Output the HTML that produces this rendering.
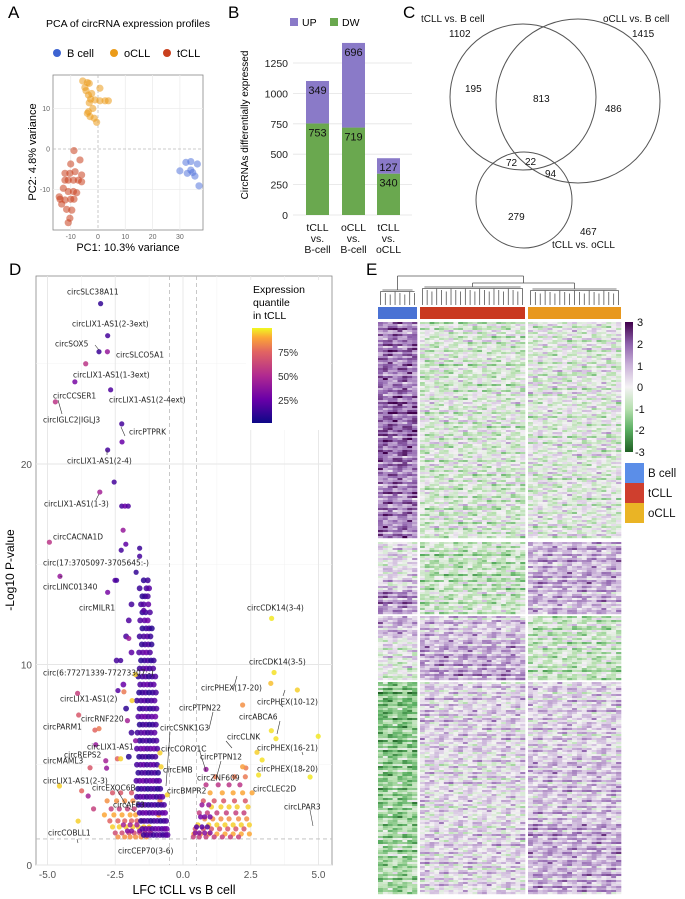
<!DOCTYPE html>
<html><head><meta charset="utf-8">
<style>
html,body{margin:0;padding:0;background:#fff;}
svg{display:block;font-family:"Liberation Sans",sans-serif;}
.vl{font-family:"DejaVu Sans","Liberation Sans",sans-serif;font-size:7.5px;fill:#222;}
.tick{font-size:8px;fill:#555;}
</style></head>
<body>
<svg id="fig" width="685" height="899" viewBox="0 0 685 899" xmlns="http://www.w3.org/2000/svg">
<text x="8" y="18" font-size="17">A</text>
<text x="228" y="18" font-size="17">B</text>
<text x="403" y="18" font-size="17">C</text>
<text x="9" y="275" font-size="17">D</text>
<text x="366" y="275" font-size="17">E</text>

<g id="pca">
<text x="128" y="27" font-size="10.5" text-anchor="middle">PCA of circRNA expression profiles</text>
<g>
<circle cx="57" cy="53" r="4" fill="#3d63d1"/>
<text x="67" y="57" font-size="11">B cell</text>
<circle cx="114" cy="53" r="4" fill="#eb9b19"/>
<text x="124" y="57" font-size="11">oCLL</text>
<circle cx="167" cy="53" r="4" fill="#c9401e"/>
<text x="177" y="57" font-size="11">tCLL</text>
</g>
<rect x="53" y="75" width="150" height="155" fill="#fff" stroke="#888" stroke-width="0.8"/>
<g id="pcaGrid"></g>
<g id="pcaPts"></g>
<text x="128" y="251" font-size="11" text-anchor="middle">PC1: 10.3% variance</text>
<text transform="translate(36,152) rotate(-90)" font-size="11" text-anchor="middle">PC2: 4.8% variance</text>
</g>

<g id="bars">
<rect x="290" y="18" width="8" height="8" fill="#8a7ac8"/>
<text x="302" y="26" font-size="10.5">UP</text>
<rect x="330" y="18" width="8" height="8" fill="#6aa84f"/>
<text x="342" y="26" font-size="10.5">DW</text>
<g id="barGrid"></g>
<g id="barMarks"></g>
<text transform="translate(248,125) rotate(-90)" font-size="10" text-anchor="middle">CircRNAs differentially expressed</text>
</g>

<g id="venn" fill="none" stroke="#555" stroke-width="1">
<circle cx="523" cy="97" r="73"/>
<circle cx="578" cy="101" r="82"/>
<circle cx="524" cy="200" r="48"/>
</g>
<g font-size="10" fill="#111">
<text x="421" y="22">tCLL vs. B cell</text>
<text x="449" y="37">1102</text>
<text x="603" y="22">oCLL vs. B cell</text>
<text x="632" y="37">1415</text>
<text x="465" y="92">195</text>
<text x="533" y="102">813</text>
<text x="605" y="112">486</text>
<text x="506" y="166">72</text>
<text x="525" y="165">22</text>
<text x="545" y="177">94</text>
<text x="508" y="220">279</text>
<text x="580" y="235">467</text>
<text x="552" y="248">tCLL vs. oCLL</text>
</g>

<g id="volcano">
<rect x="36" y="276" width="296" height="589" fill="#fff" stroke="#888" stroke-width="0.8"/>
<g id="volGrid"></g>
<g id="volPts"></g>
<g id="volLabels"></g>
<rect x="246" y="280" width="84" height="150" fill="#fff"/>
<text x="253" y="293" font-size="10.5">Expression</text>
<text x="253" y="306" font-size="10.5">quantile</text>
<text x="253" y="319" font-size="10.5">in tCLL</text>
<defs><linearGradient id="plasma" x1="0" y1="1" x2="0" y2="0">
<stop offset="0" stop-color="#0d0887"/><stop offset="0.25" stop-color="#6a00a8"/><stop offset="0.5" stop-color="#b12a90"/><stop offset="0.75" stop-color="#e16462"/><stop offset="0.9" stop-color="#fca636"/><stop offset="1" stop-color="#f0f921"/></linearGradient>
<linearGradient id="prgn" x1="0" y1="0" x2="0" y2="1">
<stop offset="0" stop-color="#40004b"/><stop offset="0.17" stop-color="#8f63ad"/><stop offset="0.33" stop-color="#c9b1d8"/><stop offset="0.5" stop-color="#f4f2f4"/><stop offset="0.67" stop-color="#b5dfae"/><stop offset="0.83" stop-color="#5aae61"/><stop offset="1" stop-color="#1f5f24"/></linearGradient></defs>
<rect x="252" y="328" width="20" height="95" fill="url(#plasma)"/>
<g font-size="10" fill="#333">
<text x="278" y="356">75%</text><text x="278" y="380">50%</text><text x="278" y="404">25%</text></g>
<text transform="translate(14,570) rotate(-90)" font-size="12" text-anchor="middle">-Log10 P-value</text>
<text x="184" y="894" font-size="12.5" text-anchor="middle">LFC tCLL vs B cell</text>
</g>

<g id="heat">
<g id="dendro" stroke="#555" stroke-width="0.8" fill="none"></g>
<rect x="378" y="307" width="39" height="12" fill="#4a72d4"/>
<rect x="420" y="307" width="105" height="12" fill="#c9391f"/>
<rect x="528" y="307" width="93" height="12" fill="#e8981e"/>
<g id="heatCells"></g>
<rect x="625" y="322" width="8" height="130" fill="url(#prgn)"/>
<g font-size="11" fill="#111">
<text x="637" y="326">3</text><text x="637" y="348">2</text><text x="637" y="370">1</text><text x="637" y="391">0</text><text x="635" y="413">-1</text><text x="635" y="434">-2</text><text x="635" y="456">-3</text></g>
<rect x="625" y="463" width="19" height="20" fill="#5b8ee8"/>
<rect x="625" y="483" width="19" height="20" fill="#cf3f2e"/>
<rect x="625" y="503" width="19" height="20" fill="#eab425"/>
<g font-size="11.5" fill="#111"><text x="648" y="477">B cell</text><text x="648" y="497">tCLL</text><text x="648" y="517">oCLL</text></g>
</g>
</svg>
<script>
const pcaOcllPC1=[-5.6,-3.9,-4.8,-3.2,-4.4,-3.5,-2.3,0.7,-2.7,-1.1,0.7,2.6,3.8,-3.2,-3.5,-1.9,-3.9,-2.9,-1.4,-0.5];
const pcaOcllPC2=[16.8,16.4,15.2,16.2,14.4,13.3,13.7,15.0,12.3,12.1,11.9,11.9,11.9,11.4,9.2,10.0,8.8,8.0,7.6,6.6];
const pcaTcllPC1=[-8.8,-10.0,-6.6,-12.1,-10.3,-8.4,-6.0,-12.1,-10.9,-9.0,-7.2,-6.0,-12.7,-10.9,-9.0,-7.8,-13.9,-12.1,-10.0,-8.8,-13.3,-11.5,-9.6,-10.3,-10.9,-14.2];
const pcaTcllPC2=[-0.4,-3.7,-2.7,-6.0,-6.0,-5.6,-6.4,-7.7,-7.7,-7.7,-7.7,-8.1,-9.7,-10.5,-10.5,-10.8,-12.4,-12.6,-12.4,-12.4,-13.6,-14.9,-15.1,-17.1,-18.2,-11.8];
const pcaBcellPC1=[30.0,32.2,34.0,36.4,32.7,34.7,35.5,37.0,34.0];
const pcaBcellPC2=[-5.4,-3.3,-3.1,-3.7,-6.0,-5.8,-6.7,-9.1,-5.2];
const pcaXTicks=[-10,0,10,20,30];
const pcaYTicks=[-10,0,10];
const barCategories=[["tCLL","vs.","B-cell"],["oCLL","vs.","B-cell"],["tCLL","vs.","oCLL"]];
const barDW=[753,719,340];
const barUP=[349,696,127];
const barTicks=[0,250,500,750,1000,1250];
const volXTicks=[-5.0,-2.5,0.0,2.5,5.0];
const volYTicks=[0,10,20];
const volHighlight=[[-3.04,28.0,.1],[-2.78,26.4,.15],[-3.10,25.6,.12],[-2.79,25.6,.4],[-3.59,25.0,.55],[-3.99,24.1,.3],[-2.67,23.7,.18],[-4.71,23.1,.55],[-2.26,22.0,.15],[-2.25,21.1,.25],[-2.78,20.7,.15],[-2.54,19.1,.15],[-3.07,18.6,.45],[-2.26,17.9,.15],[-2.14,17.9,.25],[-2.02,17.9,.18],[-2.21,16.7,.4],[-4.93,16.1,.55],[-2.11,16.0,.22],[-2.28,15.7,.15],[-1.60,15.8,.12],[-1.60,15.4,.15],[-1.73,14.6,.1],[-4.54,14.4,.4],[-2.51,14.2,.2],[-2.45,14.2,.15],[-2.78,13.6,.3],[-1.45,12.7,.2],[-2.0,11.3,.4],[-2.3,10.2,.15],
[3.27,12.3,.98],[3.36,9.6,.97],[3.24,9.06,.93],[4.22,8.73,.95],[2.2,7.98,.85],[4.99,6.42,.98],[3.43,6.3,.97],[3.26,6.7,.97],[2.73,5.62,.95],[2.92,5.24,.97],[2.32,4.84,.8],[2.2,4.9,.88],[2.79,4.49,.97],[4.69,4.39,.98],[0.85,4.77,.4],
[-3.89,8.56,.6],[-2.18,8.64,.8],[-2.4,8.7,.2],[-1.88,8.2,.95],[-3.85,7.48,.7],[-3.25,6.73,.75],[-3.1,6.8,.8],[-1.75,6.2,.35],[-3.22,6.0,.4],[-3.43,4.85,.7],[-2.82,4.83,.4],[-2.85,5.2,.45],[-2.42,5.3,.75],[-2.3,5.3,.95],[-4.56,3.94,.95],[-3.74,3.7,.75],[-3.5,3.44,.45],[-3.87,2.19,.95],[-0.85,5.59,.95],[-0.81,4.9,.95],[-0.58,3.5,.95],[-1.75,9.5,.95],[-2.05,7.2,.45]];
const volStream=[[14.2,.15,[-1.45,-1.3]],[13.8,.2,[-1.6,-1.35,-1.25]],[13.4,.12,[-1.5,-1.4,-1.3]],[13.0,.25,[-1.55,-1.45,-1.28,-1.9]],[12.6,.15,[-1.5,-1.38,-1.22]],[12.2,.3,[-1.58,-1.42,-1.3,-2.0]],[11.8,.12,[-1.5,-1.36,-1.25,-1.15]],[11.4,.2,[-1.6,-1.45,-1.32,-1.2,-2.1]],[11.0,.15,[-1.52,-1.4,-1.28,-1.16]],[10.6,.3,[-1.62,-1.48,-1.35,-1.22,-1.9]],[10.2,.12,[-1.55,-1.42,-1.3,-1.18,-1.08,-2.45]],[9.8,.22,[-1.6,-1.47,-1.35,-1.23,-1.1]],[9.4,.15,[-1.65,-1.5,-1.38,-1.26,-1.14,-1.02]],[9.0,.28,[-1.58,-1.45,-1.32,-1.2,-1.08,-2.2]],[8.6,.12,[-1.62,-1.5,-1.38,-1.25,-1.12,-1.0]],[8.2,.2,[-1.7,-1.55,-1.42,-1.3,-1.17,-1.05]],[7.8,.15,[-1.6,-1.48,-1.35,-1.22,-1.1,-0.98,-2.1]],[7.4,.3,[-1.65,-1.52,-1.4,-1.28,-1.15,-1.02]],[7.0,.12,[-1.6,-1.48,-1.36,-1.24,-1.12,-1.0]],[6.6,.22,[-1.68,-1.55,-1.42,-1.3,-1.18,-1.05,-1.9]],[6.2,.15,[-1.6,-1.48,-1.35,-1.23,-1.1,-0.98]],[5.8,.3,[-1.7,-1.56,-1.44,-1.32,-1.2,-1.07,-0.95]],[5.4,.12,[-1.62,-1.5,-1.38,-1.26,-1.14,-1.02,-2.0]],[5.0,.25,[-1.7,-1.57,-1.45,-1.33,-1.2,-1.08,-0.96]],[4.6,.15,[-1.65,-1.52,-1.4,-1.28,-1.16,-1.04,-0.92]],[4.2,.3,[-1.72,-1.6,-1.47,-1.35,-1.22,-1.1,-0.98,-0.88]],[3.8,.12,[-1.66,-1.54,-1.42,-1.3,-1.18,-1.06,-0.94,-0.84]],[3.4,.22,[-1.7,-1.58,-1.46,-1.34,-1.22,-1.1,-0.98,-0.86,-0.76]],[3.0,.15,[-1.64,-1.52,-1.4,-1.28,-1.16,-1.04,-0.92,-0.8,-0.7]],[2.6,.28,[-1.6,-1.48,-1.36,-1.24,-1.12,-1.0,-0.88,-0.76,-0.66]],[2.2,.15,[-1.55,-1.43,-1.31,-1.19,-1.07,-0.95,-0.83,-0.71,-0.62]],[1.8,.3,[-1.5,-1.38,-1.26,-1.14,-1.02,-0.9,-0.78,-0.68,-0.6]],[1.5,.2,[-1.45,-1.33,-1.21,-1.09,-0.97,-0.85,-0.74,-0.64,-0.57]]];
const volLeftCluster=[[3.6,.7,[-2.6,-2.3,-1.9]],[3.2,.85,[-2.8,-2.45,-2.15,-1.85,-0.85]],[2.8,.6,[-3.3,-2.65,-2.35,-2.05,-1.8]],[2.5,.9,[-2.9,-2.55,-2.25,-1.95,-1.75,-0.9]],[2.2,.75,[-2.7,-2.4,-2.15,-1.9,-1.7,-1.5]],[1.9,.95,[-2.6,-2.35,-2.1,-1.85,-1.65,-1.45,-1.25]],[1.6,.65,[-2.5,-2.25,-2.0,-1.8,-1.6,-1.4,-1.2]],[1.4,.85,[-2.4,-2.15,-1.95,-1.75,-1.55,-1.35]],[2.0,.45,[-2.2,-1.95,-1.7]],[1.7,.35,[-2.05,-1.9,-1.6]]];
const volRightCluster=[[4.4,.8,[1.2,1.9,2.3]],[4.0,.55,[0.85,1.3,1.7,2.1]],[3.6,.9,[1.0,1.45,1.85,2.2,2.55]],[3.2,.7,[0.75,1.15,1.5,1.9,2.3]],[2.9,.95,[1.05,1.4,1.7,2.0,2.4]],[2.6,.6,[0.6,0.9,1.25,1.6,1.95,2.25]],[2.3,.85,[0.8,1.1,1.4,1.7,2.05,2.35]],[2.0,.95,[0.55,0.95,1.25,1.55,1.85,2.15,2.45]],[1.8,.7,[0.45,0.75,1.05,1.35,1.65,1.95,2.25]],[1.55,.9,[0.4,0.65,0.95,1.25,1.55,1.85,2.15,2.45]],[1.4,.6,[0.38,0.6,0.85,1.15,1.45,1.75,2.05]],[2.4,.3,[0.65,0.8,1.0]],[1.9,.2,[0.5,0.7,0.9]],[1.6,.35,[0.45,0.6,0.8,1.0]],[3.0,.4,[0.7,0.95]]];
const heatGroups=["B cell","tCLL","oCLL"];
const heatGroupSamples=[8,22,19];
const heatBlockMeans=[
 [[1.6,-0.4,-0.2],[1.8,-0.3,-0.2],[1.5,-0.4,-0.2]],
 [[0.2,-0.7,0.9],[0.3,-0.7,0.9],[1.2,-0.6,0.8]],
 [[0.8,0.6,-0.6],[0.0,0.9,-0.6],[-0.3,1.0,-0.7]],
 [[-1.5,0.4,0.4],[-1.3,0.2,0.6],[-1.1,0.3,0.9]]];
const heatRowNoise=[0.3,-0.5,0.1,0.8,-0.2,-0.9,0.4,0.0,-0.6,0.7,-0.1,0.5,-0.8,0.2,0.9,-0.4,0.1,-0.3,0.6,-0.7,0.0,0.4,-0.2,0.8,-0.5,0.3,-0.9,0.2,0.5,-0.1,-0.6];
const heatCellNoise=[0.2,-0.6,1.1,-0.3,0.0,0.7,-1.0,0.4,-0.2,0.9,-0.5,0.1,1.4,-0.8,0.3,-0.1,0.6,-1.2,0.0,0.5,-0.4,0.8,-0.7,0.2,1.0,-0.3,-0.9,0.4,0.1,-0.5,0.7,-0.2,1.3,-0.6,0.3,-1.1,0.0];

const NS="http://www.w3.org/2000/svg";
function mk(parent,tag,attrs){const e=document.createElementNS(NS,tag);for(const k in attrs)e.setAttribute(k,attrs[k]);parent.appendChild(e);return e;}

const xa=v=>98+v*2.73, ya=v=>149-v*4.05;
const pg=document.getElementById('pcaGrid');
pcaXTicks.forEach(t=>{
 const l=mk(pg,'line',{x1:xa(t),x2:xa(t),y1:75,y2:230,stroke:t===0?'#bbb':'#ececec','stroke-width':0.8,'stroke-dasharray':t===0?'3,2':''});
 
 
 const tx=mk(pg,'text',{x:xa(t),y:239,'text-anchor':'middle','font-size':7,fill:'#666'});tx.textContent=t;
 
 
});
pcaYTicks.forEach(t=>{
 const l=mk(pg,'line',{x1:53,x2:203,y1:ya(t),y2:ya(t),stroke:t===0?'#bbb':'#ececec','stroke-width':0.8,'stroke-dasharray':t===0?'3,2':''});
 
 
 const tx=mk(pg,'text',{x:50,y:ya(t)+2.5,'text-anchor':'end','font-size':7,fill:'#666'});tx.textContent=t;
 
 
});
const pp=document.getElementById('pcaPts');
function pcaSeries(xs,ys,col,name){xs.forEach((v,i)=>{const c=mk(pp,'circle',{cx:xa(v),cy:ya(ys[i]),r:3.6,fill:col,'fill-opacity':0.55});
 
 });}
pcaSeries(pcaOcllPC1,pcaOcllPC2,'#eb9b19','pca-point-ocll');
pcaSeries(pcaTcllPC1,pcaTcllPC2,'#c9401e','pca-point-tcll');
pcaSeries(pcaBcellPC1,pcaBcellPC2,'#5577dd','pca-point-bcell');

const yb=v=>215-v*0.1216;
const bg=document.getElementById('barGrid');
barTicks.forEach(t=>{
 const l=mk(bg,'line',{x1:293,x2:412,y1:yb(t),y2:yb(t),stroke:'#e3e3e3','stroke-width':0.8});
 
 
 const tx=mk(bg,'text',{x:288,y:yb(t)+4,'text-anchor':'end','font-size':10.5,fill:'#222'});tx.textContent=t;
 
 
});
const bm=document.getElementById('barMarks');
const barX=[306,342,377], bw=23;
barDW.forEach((v,i)=>{
 const r1=mk(bm,'rect',{x:barX[i],y:yb(v),width:bw,height:yb(0)-yb(v),fill:'#6aa84f'});
 
 
 const r2=mk(bm,'rect',{x:barX[i],y:yb(v+barUP[i]),width:bw,height:yb(v)-yb(v+barUP[i]),fill:'#8a7ac8'});
 
 
 const t1=mk(bm,'text',{x:barX[i]+bw/2,y:yb(v)+13,'text-anchor':'middle','font-size':11,fill:'#111'});t1.textContent=v;
 
 
 const t2=mk(bm,'text',{x:barX[i]+bw/2,y:yb(v+barUP[i])+13,'text-anchor':'middle','font-size':11,fill:'#111'});t2.textContent=barUP[i];
 
 
 barCategories[i].forEach((s,j)=>{const t=mk(bm,'text',{x:barX[i]+bw/2,y:231+j*11,'text-anchor':'middle','font-size':10.5,fill:'#111'});t.textContent=s;
  
  });
});

const xs=l=>183+l*27.1, ys=p=>865-p*20.05;
const vg=document.getElementById('volGrid');
[-3.75,-1.25,1.25,3.75].forEach(t=>{mk(vg,'line',{x1:xs(t),x2:xs(t),y1:276,y2:865,stroke:'#f3f3f3','stroke-width':0.6});});
[5,15,25].forEach(t=>{mk(vg,'line',{x1:36,x2:332,y1:ys(t),y2:ys(t),stroke:'#f3f3f3','stroke-width':0.6});});
volXTicks.forEach(t=>{
 const l=mk(vg,'line',{x1:xs(t),x2:xs(t),y1:276,y2:865,stroke:'#e6e6e6','stroke-width':0.9});
 
 
 const tx=mk(vg,'text',{x:xs(t),y:878,'text-anchor':'middle','font-size':10,fill:'#555'});tx.textContent=t.toFixed(1);
 
 
});
volYTicks.forEach(t=>{
 const l=mk(vg,'line',{x1:36,x2:332,y1:ys(t),y2:ys(t),stroke:'#e6e6e6','stroke-width':0.9});
 
 
 const tx=mk(vg,'text',{x:32,y:ys(t)+4,'text-anchor':'end','font-size':10,fill:'#555'});tx.textContent=t;
 
 
});
[-0.5,0.5].forEach(t=>mk(vg,'line',{x1:xs(t),x2:xs(t),y1:276,y2:865,stroke:'#bbb','stroke-width':0.8,'stroke-dasharray':'4,3'}));
mk(vg,'line',{x1:36,x2:332,y1:ys(1.3),y2:ys(1.3),stroke:'#bbb','stroke-width':0.8,'stroke-dasharray':'4,3'});

const plasmaStops=[[0,[13,8,135]],[0.25,[106,0,168]],[0.5,[177,42,144]],[0.75,[225,100,98]],[0.9,[252,166,54]],[1,[240,249,33]]];
function plasma(q){for(let i=1;i<plasmaStops.length;i++){if(q<=plasmaStops[i][0]){const a=plasmaStops[i-1],b=plasmaStops[i];const f=(q-a[0])/(b[0]-a[0]);return 'rgb('+a[1].map((c,k)=>Math.round(c+(b[1][k]-c)*f)).join(',')+')';}}return 'rgb(240,249,33)';}
const vp=document.getElementById('volPts');
function volDot(l,p,q,name,r){const c=mk(vp,'circle',{cx:xs(l),cy:ys(p),r:r||2.6,fill:plasma(q),'fill-opacity':0.85});
 
 }
volLeftCluster.forEach(r=>r[2].forEach(l=>volDot(l,r[0],r[1],'volcano-point-left')));
volRightCluster.forEach(r=>r[2].forEach(l=>volDot(l,r[0],r[1],'volcano-point-right')));
volStream.forEach(r=>r[2].forEach((l,j)=>volDot(l,r[0],r[1]*0.6+(j%3)*0.04,'volcano-point-stream',2.9)));
volHighlight.forEach(d=>volDot(d[0],d[1],d[2],'volcano-point-highlight'));

const volLabelText=[["circSLC38A11",67,292],["circLIX1-AS1(2-3ext)",72,324],["circSOX5",55,344],["circSLCO5A1",116,355],["circLIX1-AS1(1-3ext)",73,375],["circCCSER1",53,396],["circLIX1-AS1(2-4ext)",109,400],["circIGLC2|IGLJ3",43,420],["circPTPRK",129,432],["circLIX1-AS1(2-4)",67,461],["circLIX1-AS1(1-3)",44,504],["circCACNA1D",53,537],["circ(17:3705097-3705645:-)",43,563],["circLINC01340",43,587],["circMILR1",79,608],["circCDK14(3-4)",247,608],["circCDK14(3-5)",249,662],["circ(6:77271339-77273307:-)",43,673],["circPHEX(17-20)",201,688],["circLIX1-AS1(2)",60,699],["circPHEX(10-12)",257,702],["circPTPN22",179,708],["circABCA6",239,717],["circRNF220",81,719],["circPARM1",43,727],["circCSNK1G3",160,728],["circCLNK",227,737],["circLIX1-AS1",87,747],["circCORO1C",161,749],["circPHEX(16-21)",257,748],["circREPS2",64,755],["circPTPN12",200,757],["circMAML3",43,761],["circEMB",163,770],["circPHEX(18-20)",257,769],["circZNF609",197,778],["circLIX1-AS1(2-3)",43,781],["circEXOC6B",92,788],["circBMPR2",167,791],["circCLEC2D",253,789],["circLPAR3",284,807],["circAFF3",113,805],["circCOBLL1",48,833],["circCEP70(3-6)",118,851]];
const vlg=document.getElementById('volLabels');
volLabelText.forEach(d=>{const t=mk(vlg,'text',{x:d[1],y:d[2]+2.7,class:'vl'});t.textContent=d[0];
 
 });
[[58,400,62,414],[95,345,99,350],[125,436,121,427],[107,455,107,450],[96,500,99,494],[62,577,60,576],[237,676,233,690],[280,721,277,734],[226,741,232,748],[213,712,209,729],[170,732,166,786],[199,749,206,771],[221,761,216,779],[310,810,313,826],[117,790,128,808],[129,808,135,812],[77,839,78,843],[285,690,283,696],[280,704,283,707],[303,755,302,752],[304,770,303,771]].forEach(s=>mk(vlg,'line',{x1:s[0],y1:s[1],x2:s[2],y2:s[3],stroke:'#333','stroke-width':0.6}));

const heatColStart=[378,420,528], heatColEnd=[417,525,621];
const heatBlockTop=[322,542,616,682], heatBlockBot=[538,613,679,894];
const prgnStops=[[-3,[31,95,36]],[-2,[90,174,97]],[-1,[181,223,174]],[0,[244,242,244]],[1,[201,177,216]],[2,[143,99,173]],[3,[64,0,75]]];
function prgn(v){v=Math.max(-3,Math.min(3,v));for(let i=1;i<prgnStops.length;i++){if(v<=prgnStops[i][0]){const a=prgnStops[i-1],b=prgnStops[i];const f=(v-a[0])/(b[0]-a[0]);return 'rgb('+a[1].map((c,k)=>Math.round(c+(b[1][k]-c)*f)).join(',')+')';}}}
const hc=document.getElementById('heatCells');
let rowIdx=0;
heatBlockMeans.forEach((block,bi)=>{
 const top=heatBlockTop[bi], bot=heatBlockBot[bi], rowH=2;
 const nRows=Math.round((bot-top)/rowH);
 for(let r=0;r<nRows;r++){
  const band=Math.min(2,Math.floor(r*3/nRows));
  heatGroups.forEach((g,gi)=>{
   const n=heatGroupSamples[gi], w=(heatColEnd[gi]-heatColStart[gi])/n;
   for(let c=0;c<n;c++){
    const v=block[band][gi]+0.7*heatRowNoise[(rowIdx+gi*5)%heatRowNoise.length]+0.75*heatCellNoise[(rowIdx*5+c*3+gi*11)%heatCellNoise.length];
    const cell=mk(hc,'rect',{x:(heatColStart[gi]+c*w).toFixed(2),y:top+r*rowH,width:(w+0.3).toFixed(2),height:rowH+0.2,fill:prgn(v)});
    
    
   }
  });
  rowIdx++;
 }
});
const dg=document.getElementById('dendro');
const groupY=[290,287,289], groupCenters=[];
heatGroups.forEach((g,gi)=>{
 const n=heatGroupSamples[gi], w=(heatColEnd[gi]-heatColStart[gi])/n;
 const first=heatColStart[gi]+w/2, last=heatColStart[gi]+w*(n-0.5);
 for(let c=0;c<n;c++){const x=heatColStart[gi]+w*(c+0.5);mk(dg,'line',{x1:x,x2:x,y1:305,y2:groupY[gi]+((c%3)+1)*1.5});}
 mk(dg,'line',{x1:first,x2:last,y1:groupY[gi]+1.5,y2:groupY[gi]+1.5});
 mk(dg,'line',{x1:first+2,x2:last-2,y1:groupY[gi],y2:groupY[gi]});
 groupCenters.push((first+last)/2);
});
mk(dg,'line',{x1:groupCenters[1],x2:groupCenters[1],y1:287,y2:283});
mk(dg,'line',{x1:groupCenters[2],x2:groupCenters[2],y1:289,y2:283});
mk(dg,'line',{x1:groupCenters[1],x2:groupCenters[2],y1:283,y2:283});
const m12=(groupCenters[1]+groupCenters[2])/2;
mk(dg,'line',{x1:m12,x2:m12,y1:283,y2:276});
mk(dg,'line',{x1:groupCenters[0],x2:groupCenters[0],y1:290,y2:276});
mk(dg,'line',{x1:groupCenters[0],x2:m12,y1:276,y2:276});
</script>
</body></html>
